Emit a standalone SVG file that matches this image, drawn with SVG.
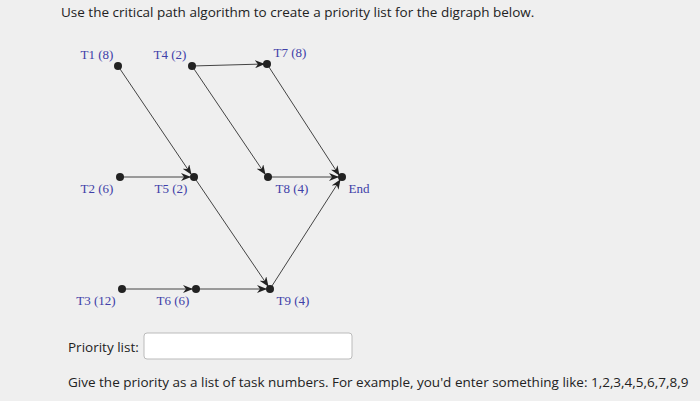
<svg xmlns="http://www.w3.org/2000/svg" width="700" height="401" viewBox="0 0 700 401">
<style>
.t{font-family:"Open Sans","DejaVu Sans",sans-serif;font-size:13.5px;fill:#222}
.l{font-family:"Liberation Serif",serif;font-size:13px;fill:#4040a8;text-anchor:middle}
.e{stroke:#444;stroke-width:1;fill:none;marker-end:url(#a)}
.n{fill:#222}
</style>
<defs><marker id="a" markerWidth="10" markerHeight="8" refX="9" refY="4" orient="auto" markerUnits="userSpaceOnUse"><path d="M0,0L10,4L0,8L3,4Z" fill="#222"/></marker></defs>
<rect width="700" height="401" fill="#efefef"/>
<text class="t" x="61" y="17">Use the critical path algorithm to create a priority list for the digraph below.</text>
<g id="connectors">
<line class="e" x1="192" y1="66" x2="264" y2="64"/>
<line class="e" x1="118" y1="66" x2="191" y2="174"/>
<line class="e" x1="120" y1="177" x2="190" y2="177"/>
<line class="e" x1="192" y1="66" x2="265" y2="174"/>
<line class="e" x1="267" y1="64" x2="339" y2="175"/>
<line class="e" x1="268" y1="177" x2="338" y2="177"/>
<line class="e" x1="194" y1="177" x2="268" y2="286"/>
<line class="e" x1="122" y1="289" x2="192" y2="289"/>
<line class="e" x1="196" y1="289" x2="266" y2="289"/>
<line class="e" x1="270" y1="289" x2="340" y2="180"/>
</g>
<g id="T1"><circle class="n" cx="118" cy="66" r="4"/><text class="l" x="97" y="59">T1 (8)</text></g>
<g id="T4"><circle class="n" cx="192" cy="66" r="4"/><text class="l" x="170" y="59">T4 (2)</text></g>
<g id="T7"><circle class="n" cx="267" cy="64" r="4"/><text class="l" x="290" y="57">T7 (8)</text></g>
<g id="T2"><circle class="n" cx="120" cy="177" r="4"/><text class="l" x="97" y="193">T2 (6)</text></g>
<g id="T5"><circle class="n" cx="194" cy="177" r="4"/><text class="l" x="171" y="193">T5 (2)</text></g>
<g id="T8"><circle class="n" cx="268" cy="177" r="4"/><text class="l" x="292" y="193">T8 (4)</text></g>
<g id="End"><circle class="n" cx="342" cy="177" r="4"/><text class="l" x="359" y="193">End</text></g>
<g id="T3"><circle class="n" cx="122" cy="289" r="4"/><text class="l" x="96" y="305">T3 (12)</text></g>
<g id="T6"><circle class="n" cx="196" cy="289" r="4"/><text class="l" x="173" y="305">T6 (6)</text></g>
<g id="T9"><circle class="n" cx="270" cy="289" r="4"/><text class="l" x="293" y="305">T9 (4)</text></g>
<text class="t" x="68" y="352">Priority list:</text>
<rect x="144" y="333" width="208" height="26" rx="3" fill="#fff" stroke="#bbb"/>
<text class="t" x="68" y="387">Give the priority as a list of task numbers. For example, you'd enter something like: 1,2,3,4,5,6,7,8,9</text>
</svg>
